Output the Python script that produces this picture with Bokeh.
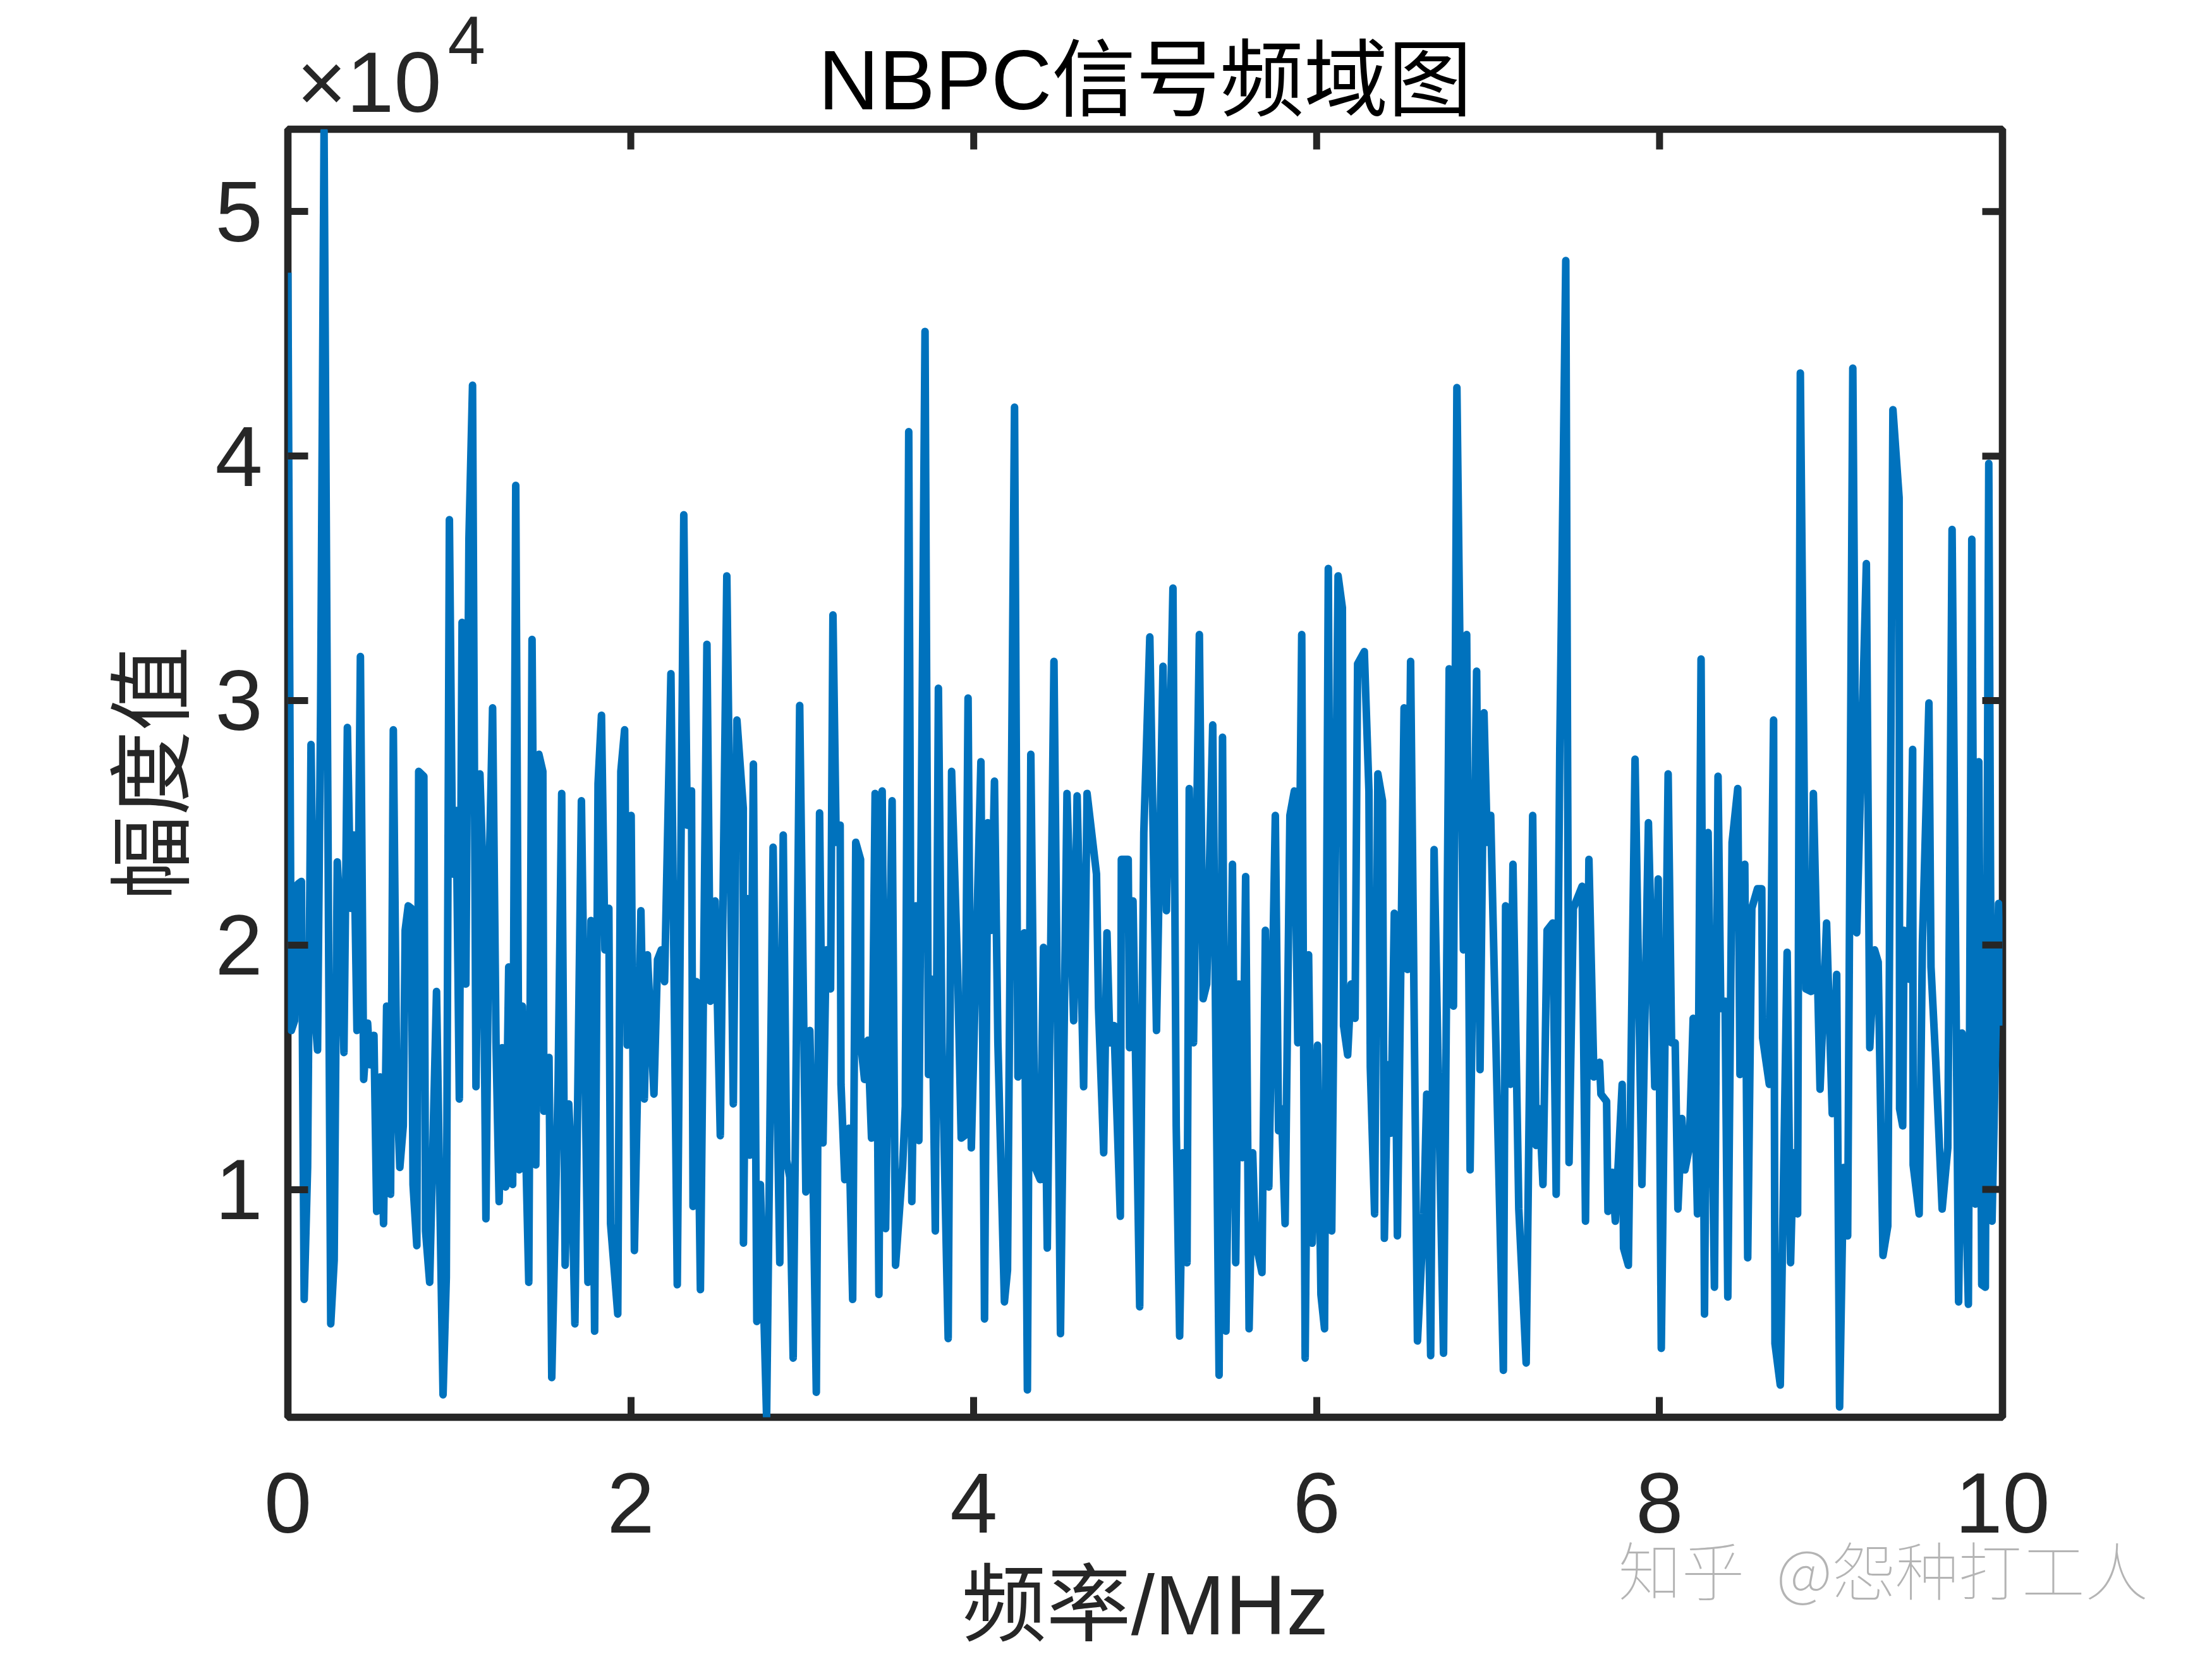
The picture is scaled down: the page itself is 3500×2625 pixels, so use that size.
from bokeh.plotting import figure
from bokeh.layouts import column
from bokeh.models import Label, FixedTicker, Range1d
from bokeh.embed import file_html
from bokeh.resources import INLINE

title_text = "NBPC信号频域图"
x_label = "频率/MHz"
y_label = "幅度值"
exponent_base = "×10"
exponent_power = "4"
watermark = "知乎\u2002@怨种打工人"
x_ticks = [0, 2, 4, 6, 8, 10]
y_ticks = [1, 2, 3, 4, 5]

freq_a = [0.000,0.020,0.039,0.059,0.079,0.095,0.115,0.135,0.155,0.173,0.191,0.211,0.230,0.250,0.270,0.288,0.308,0.327,0.347,0.367,0.385,0.403,0.423,0.442,0.465,0.480,0.502,0.518,0.538,0.558,0.576,0.599,0.615,0.635,0.653,0.673,0.684,0.702,0.720,0.730,0.752,0.763,0.793,0.803,0.827,0.867,0.885,0.905,0.924,0.942,0.961,0.982,1.000,1.016,1.038,1.056,1.077,1.097,1.120,1.138,1.155,1.174,1.194,1.214,1.232,1.250,1.270,1.288,1.311,1.329,1.349,1.368,1.405,1.424,1.446,1.464,1.487,1.493,1.523,1.539,1.576,1.597,1.617,1.638,1.655,1.674,1.712,1.750,1.768,1.789,1.809,1.829,1.849,1.872,1.882,1.924,1.942,1.964,1.979,2.002,2.021,2.059,2.079,2.097,2.135,2.156,2.178,2.197,2.234,2.271,2.309,2.329,2.354,2.363,2.383,2.406,2.444,2.464,2.492]
amp_a = [4.75,1.65,1.69,2.25,2.26,0.55,1.09,2.82,1.74,1.57,2.97,5.33,2.97,0.45,0.71,2.34,2.08,1.56,2.89,2.15,2.45,1.65,3.18,1.45,1.68,1.51,1.63,0.91,1.46,0.86,1.75,0.98,2.88,1.43,1.09,1.26,2.06,2.16,2.15,1.02,0.77,2.71,2.69,0.83,0.62,1.81,1.02,0.16,0.64,3.74,2.29,2.55,1.37,3.32,1.84,3.66,4.29,1.42,2.70,2.29,0.88,2.29,2.97,1.60,0.95,1.58,1.01,1.91,1.02,3.88,1.08,1.75,0.62,3.25,1.10,2.78,2.71,1.32,1.54,0.23,1.43,2.62,0.69,1.35,1.09,0.45,2.59,0.62,2.10,0.42,2.66,2.94,1.98,2.15,0.86,0.49,2.71,2.88,1.59,2.53,0.75,2.14,1.37,1.96,1.39,1.94,1.98,1.85,3.11,0.61,3.76,2.49,2.63,0.93,1.85,0.59,3.23,1.77,2.18]

freq_b = [2.522,2.560,2.598,2.619,2.656,2.657,2.677,2.695,2.715,2.735,2.756,2.792,2.830,2.869,2.889,2.909,2.927,2.947,2.985,3.021,3.044,3.062,3.082,3.101,3.121,3.139,3.165,3.179,3.198,3.221,3.226,3.248,3.272,3.294,3.312,3.340,3.341,3.363,3.383,3.404,3.425,3.447,3.466,3.486,3.524,3.544,3.585,3.601,3.621,3.639,3.662,3.680,3.716,3.736,3.756,3.776,3.794,3.815,3.851,3.871,3.907,3.927,3.947,3.967,3.986,4.042,4.063,4.082,4.103,4.121,4.141,4.179,4.197,4.238,4.258,4.295,4.313,4.333,4.358,4.388,4.407,4.429,4.468,4.506,4.544,4.583,4.603,4.641,4.661,4.716,4.728,4.758,4.777,4.794,4.818,4.855,4.861,4.901,4.909,4.929,4.968,4.992]
amp_b = [1.22,3.51,1.35,2.92,2.56,0.78,2.19,1.14,2.74,0.46,1.02,0.07,2.40,0.70,2.45,1.12,1.05,0.31,2.98,0.99,1.65,1.09,0.17,2.54,1.19,1.98,1.82,3.35,2.42,2.49,1.43,1.04,1.25,0.55,2.42,2.35,1.60,1.45,1.61,1.21,2.62,0.57,2.63,0.84,2.59,0.69,1.09,1.34,4.10,0.95,2.16,1.20,4.51,1.47,1.86,0.83,3.05,1.60,0.39,2.71,1.87,1.21,1.22,3.01,1.17,2.75,0.47,2.50,2.06,2.67,1.60,0.54,0.67,4.20,1.46,2.05,0.18,2.78,1.09,1.04,1.99,0.76,3.16,0.41,2.62,1.69,2.61,1.42,2.62,2.29,1.74,1.15,2.05,1.60,1.67,0.89,2.35,2.35,1.58,2.18,0.52,2.46]

freq_c = [5.027,5.066,5.104,5.124,5.162,5.181,5.201,5.219,5.244,5.257,5.282,5.316,5.338,5.359,5.394,5.431,5.451,5.471,5.509,5.528,5.546,5.566,5.586,5.606,5.627,5.643,5.681,5.701,5.721,5.759,5.778,5.795,5.816,5.844,5.870,5.890,5.913,5.933,5.953,5.974,6.005,6.025,6.046,6.068,6.088,6.125,6.150,6.157,6.181,6.201,6.224,6.239,6.278,6.305,6.313,6.338,6.357,6.384,6.395,6.415,6.433,6.453,6.471,6.510,6.530,6.548,6.588,6.625,6.642,6.665,6.685,6.740,6.773,6.798,6.818,6.856,6.875,6.895,6.933,6.953,6.976,6.995,7.015,7.089,7.102,7.130,7.145,7.179,7.222,7.260,7.280,7.300,7.320,7.344,7.377,7.397,7.418,7.453,7.472,7.497]
amp_c = [3.26,1.65,3.14,2.14,3.46,1.26,0.40,1.15,0.70,2.64,1.60,3.27,1.78,1.84,2.90,0.24,2.85,0.42,2.33,0.70,1.84,1.13,2.28,0.43,1.15,0.79,0.66,2.06,1.01,2.53,1.24,1.33,0.86,2.53,2.63,1.60,3.27,0.31,1.96,0.78,1.59,0.57,0.43,3.54,0.83,3.51,3.38,1.67,1.55,1.84,1.70,3.15,3.20,2.63,1.50,0.90,2.70,2.59,0.80,1.51,1.23,2.13,0.81,2.97,1.90,3.16,0.38,0.90,1.39,0.32,2.39,0.33,3.13,1.75,4.28,1.98,3.27,1.08,3.12,1.49,2.95,2.42,2.53,0.26,2.16,1.43,2.33,0.92,0.29,2.53,1.18,1.33,1.02,2.06,2.09,0.98,2.80,4.80,1.11,2.15]

freq_d = [7.548,7.568,7.588,7.617,7.650,7.658,7.691,7.699,7.724,7.742,7.782,7.790,7.818,7.857,7.897,7.935,7.972,7.992,8.010,8.050,8.070,8.091,8.107,8.130,8.148,8.173,8.196,8.221,8.242,8.262,8.283,8.320,8.341,8.357,8.382,8.398,8.423,8.456,8.469,8.497,8.514,8.538,8.571,8.596,8.601,8.640,8.665,8.673,8.704,8.744,8.764,8.780,8.805,8.821,8.854,8.884,8.897,8.936,8.974,9.007,9.033,9.050,9.073,9.097,9.127,9.150,9.206,9.226,9.254,9.275,9.303,9.331,9.361,9.397,9.400,9.418,9.426,9.456,9.476,9.479,9.514,9.533,9.571,9.583,9.611,9.648,9.681,9.706,9.744,9.764,9.801,9.821,9.842,9.862,9.879,9.900,9.920,9.939,9.977,10.000]
amp_d = [2.24,0.87,2.35,1.46,1.52,1.39,1.36,0.91,1.07,0.87,1.43,0.76,0.69,2.76,1.02,2.50,1.42,2.27,0.35,2.70,1.60,1.60,0.92,1.29,1.08,1.17,1.70,0.90,3.17,0.49,2.46,0.60,2.69,1.74,1.77,0.56,2.42,2.64,1.47,2.33,0.72,2.15,2.23,2.23,1.62,1.43,2.92,0.37,0.20,1.97,0.70,1.15,0.90,4.34,1.82,1.81,2.62,1.41,2.09,1.31,1.88,0.11,1.09,0.81,4.36,2.05,3.56,1.58,1.98,1.93,0.73,0.85,4.19,3.83,1.33,1.26,2.06,1.86,2.80,1.10,0.90,2.01,2.99,1.91,1.52,0.92,1.17,3.70,0.54,1.64,0.53,3.66,0.94,2.75,0.61,0.60,3.97,0.87,2.17,1.67]

freq = freq_a + freq_b + freq_c + freq_d
amp = amp_a + amp_b + amp_c + amp_d

W, H = 3484, 2617
INK = "#262626"
LATIN = "Liberation Sans"
MIXED = "Liberation Sans, Noto Sans CJK SC"
X0, X1, Y0, Y1 = 0, 10, 0.068, 5.337
PX_X = (X1 - X0) / 2713
PX_Y = (Y1 - Y0) / 2038
TICK = 32

p = figure(width=W, height=H, output_backend="svg", toolbar_location=None,
           x_range=Range1d(X0, X1), y_range=Range1d(Y0, Y1),
           min_border_left=455, min_border_right=316, min_border_top=204, min_border_bottom=375,
           title=title_text)
p.background_fill_color = "white"
p.border_fill_color = "white"
p.grid.visible = False
p.outline_line_color = INK
p.outline_line_width = 11.6
p.outline_line_alpha = 1

p.title.align = "center"
p.title.text_font = MIXED
p.title.text_font_size = "133px"
p.title.text_font_style = "normal"
p.title.text_color = "black"
p.title.standoff = 7

p.line(freq, amp, line_color="#0072BD", line_width=12, line_join="round")

# inward ticks on the top and right sides of the box
p.segment(x0=x_ticks, x1=x_ticks, y0=[Y1] * len(x_ticks), y1=[Y1 - TICK * PX_Y] * len(x_ticks),
          line_color=INK, line_width=11)
p.segment(x0=[X1] * len(y_ticks), x1=[X1 - TICK * PX_X] * len(y_ticks), y0=y_ticks, y1=y_ticks,
          line_color=INK, line_width=11)


def style(ax, ticks):
    ax.ticker = FixedTicker(ticks=ticks)
    ax.axis_line_color = None
    ax.major_tick_line_color = INK
    ax.major_tick_line_width = 11
    ax.major_tick_in = TICK
    ax.major_tick_out = 0
    ax.minor_tick_line_color = None
    ax.major_label_text_font = LATIN
    ax.major_label_text_font_size = "135px"
    ax.major_label_text_color = INK
    ax.axis_label_text_font = MIXED
    ax.axis_label_text_font_size = "134px"
    ax.axis_label_text_font_style = "normal"
    ax.axis_label_text_color = INK


style(p.xaxis[0], x_ticks)
style(p.yaxis[0], y_ticks)
p.xaxis[0].axis_label = x_label
p.xaxis[0].major_label_standoff = 88
p.xaxis[0].axis_label_standoff = 37
p.yaxis[0].axis_label = y_label
p.yaxis[0].major_label_standoff = 40
p.yaxis[0].axis_label_standoff = 21

# transparent sheet over the whole canvas for the texts that lie outside the axes box
SHEET_DX, SHEET_DY = 455, 45  # where the layout places the sheet's frame relative to the canvas
sheet = figure(frame_width=W, frame_height=H, output_backend="svg", toolbar_location=None,
               x_range=Range1d(0, W), y_range=Range1d(0, H),
               x_axis_location=None, y_axis_location=None,
               min_border=0, margin=(-H, 0, 0, 0))
sheet.grid.visible = False
sheet.outline_line_color = None
sheet.background_fill_color = None
sheet.border_fill_color = None
sheet.add_layout(Label(x=469 - SHEET_DX, y=H - 175 + SHEET_DY, x_units="screen", y_units="screen", text=exponent_base,
                       text_font=LATIN, text_font_size="135px", text_color=INK, text_baseline="alphabetic"))
sheet.add_layout(Label(x=708 - SHEET_DX, y=H - 108 + SHEET_DY, x_units="screen", y_units="screen", text=exponent_power,
                       text_font=LATIN, text_font_size="107px", text_color=INK, text_baseline="alphabetic"))
sheet.add_layout(Label(x=2560 - SHEET_DX, y=H - 2525 + SHEET_DY, x_units="screen", y_units="screen", text=watermark,
                       text_font="Noto Sans CJK SC", text_font_size="100px", text_color="#b4b4b4",
                       text_baseline="alphabetic"))

open("out.html", "w").write(file_html(column(p, sheet, spacing=0), INLINE))
